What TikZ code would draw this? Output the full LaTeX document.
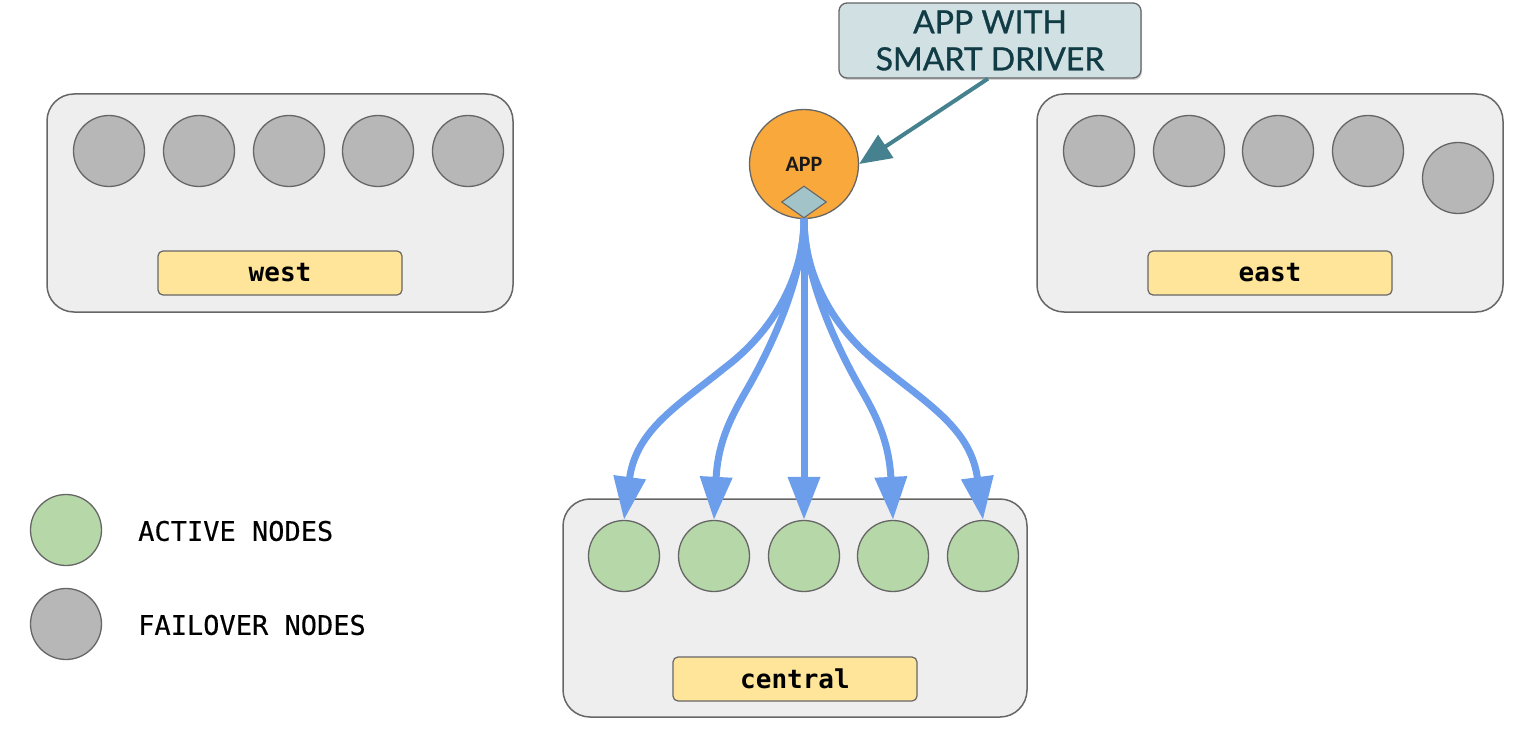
\documentclass[tikz,border=0pt]{standalone}
\usepackage{fontspec}
\newfontfamily\latof{Lato}[FakeBold=0.9]
\newfontfamily\carlf{Carlito}
\newfontfamily\monof{DejaVu Sans Mono}[FakeBold=0.4]
\newfontfamily\monob{DejaVu Sans Mono}
\usetikzlibrary{arrows.meta,shapes.geometric,shadows,calc}
\definecolor{edge}{HTML}{666666}
\definecolor{boxfill}{HTML}{EEEEEE}
\definecolor{greyc}{HTML}{B7B7B7}
\definecolor{greenc}{HTML}{B6D7A8}
\definecolor{yellowc}{HTML}{FFE599}
\definecolor{orangec}{HTML}{F9A83B}
\definecolor{diamc}{HTML}{A2C4C9}
\definecolor{callfill}{HTML}{D0E0E3}
\definecolor{calltext}{HTML}{123C45}
\definecolor{tealc}{HTML}{45818E}
\definecolor{bluec}{HTML}{6D9EEB}
\begin{document}
\begin{tikzpicture}[x=1pt,y=-1pt,
  region/.style={draw=edge, fill=boxfill, rounded corners=27pt, line width=1.5pt,
    minimum width=466pt, minimum height=218pt, inner sep=0pt},
  failover/.style={circle, draw=edge, fill=greyc, line width=1.3pt,
    minimum size=71pt, inner sep=0pt},
  active/.style={failover, fill=greenc},
  tag/.style={draw=edge, fill=yellowc, rounded corners=5pt, line width=1.2pt,
    minimum width=244pt, minimum height=44pt, inner sep=0pt,
    font=\monob\bfseries\fontsize{26}{30}\selectfont},
  legendtext/.style={anchor=west, inner sep=0pt,
    font=\monof\fontsize{27}{30}\selectfont},
  flow/.style={draw=bluec, line width=7pt, -{Triangle[length=43pt,width=31pt]}}
]
\useasboundingbox (0,0) rectangle (1536,730);

% region boxes
\node[region] (westbox) at (280,203) {};
\node[region] (eastbox) at (1270,203) {};
\node[region, minimum width=464pt] (centralbox) at (795,608) {};

% west
\foreach \i/\x in {1/109,2/199,3/289,4/378,5/468}
  \node[failover] (w\i) at (\x,151) {};
\node[tag] (westlbl) at (280,273) {west};

% east
\foreach \i/\x in {1/1099,2/1189,3/1278,4/1368}
  \node[failover] (e\i) at (\x,151) {};
\node[failover] (e5) at (1458,178) {};
\node[tag] (eastlbl) at (1270,273) {east};

% central
\foreach \i/\x in {1/624,2/714,3/804,4/893,5/983}
  \node[active] (c\i) at (\x,556) {};
\node[tag] (centrallbl) at (795,679) {central};

% legend
\node[active] (lga) at (66,530) {};
\node[legendtext] (lgat) at (138,531) {ACTIVE NODES};
\node[failover] (lgf) at (66,624) {};
\node[legendtext] (lgft) at (138,625) {FAILOVER NODES};

% app
\node[circle, draw=edge, fill=orangec, line width=1.3pt, minimum size=109pt,
  inner sep=0pt, font=\carlf\bfseries\fontsize{22}{24}\selectfont, text=black!90]
  (app) at (804,164) {APP};
\node[diamond, draw=edge, fill=diamc, line width=1.1pt, aspect=1.4,
  minimum width=45pt, minimum height=32pt, inner sep=0pt] (drv) at (804,202) {};

% callout
\node[draw=edge, fill=callfill, rounded corners=8pt, line width=1.3pt,
  minimum width=302pt, minimum height=75pt, inner sep=0pt, align=center,
  font=\latof\fontsize{32}{37}\selectfont, text=calltext,
  drop shadow={shadow xshift=1pt, shadow yshift=-2pt, opacity=0.35}]
  (callout) at (990,40.5) {APP WITH\\SMART DRIVER};
\draw[draw=tealc, line width=4pt, -{Triangle[length=32pt,width=27pt]}]
  ($(callout.south)+(-2,0)$) -- (app.east);

% flows
\coordinate (o) at (drv.south);
\foreach \s/\outer/\inner in {1/c1/c2,-1/c5/c4}{
  \draw[flow] (o) .. controls ($(o)+(0,62)$) and ($(o)+({-34*\s},115)$) ..
    ($(o)+({-79*\s},149)$) .. controls ($(o)+({-126*\s},187)$) and ($(\outer.north)+({12*\s},-90)$) ..
    (\outer.north);
  \draw[flow] (o) .. controls ($(o)+(0,62)$) and ($(o)+({-36*\s},134)$) ..
    ($(o)+({-56*\s},169)$) .. controls ($(o)+({-71*\s},195)$) and ($(\inner.north)+({4*\s},-80)$) ..
    (\inner.north);
}
\draw[flow] (o) -- (c3.north);
\end{tikzpicture}
\end{document}
